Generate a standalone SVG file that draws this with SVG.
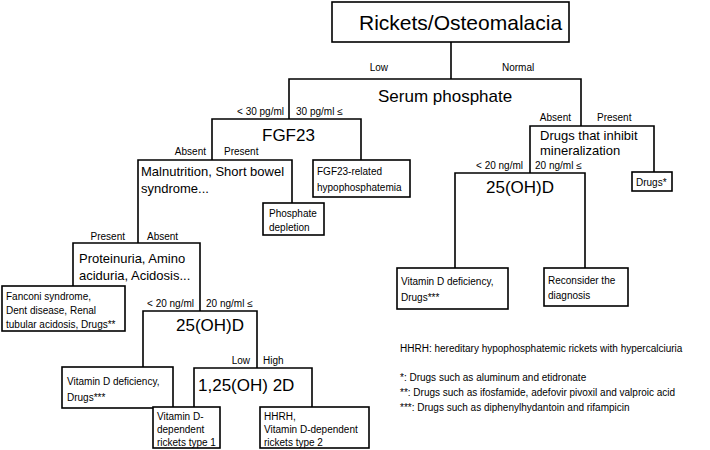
<svg xmlns="http://www.w3.org/2000/svg" width="710" height="450" viewBox="0 0 710 450">
<style>
text{font-family:"Liberation Sans",Arial,sans-serif;fill:#000}
.s{font-size:10px}.m{font-size:13px}.l{font-size:17px}.xl{font-size:21px}
.b{fill:#fff;stroke:#000;stroke-width:1.6}
.c{fill:none;stroke:#000;stroke-width:1.6}
</style>
<rect width="710" height="450" fill="#fff"/>
<g id="connectors">
<path class="c" d="M451 42V79M289 119V79H581V126"/>
<path class="c" d="M212 160V119H361V160"/>
<path class="c" d="M138 243V160H292V203"/>
<path class="c" d="M73 286V243H200V311"/>
<path class="c" d="M143 367V311H257V368"/>
<path class="c" d="M194 407V368H312V407"/>
<path class="c" d="M455 268V173H585V268"/>
<path class="c" d="M530 173V126H654V172"/>
<text class="s" x="388" y="71" text-anchor="end">Low</text><text class="s" x="502" y="71">Normal</text>
<text class="s" x="284" y="115" text-anchor="end">&lt; 30 pg/ml</text><text class="s" x="296" y="115">30 pg/ml ≤</text>
<text class="s" x="206" y="155" text-anchor="end">Absent</text><text class="s" x="224" y="155">Present</text>
<text class="s" x="571" y="121" text-anchor="end">Absent</text><text class="s" x="597" y="121">Present</text>
<text class="s" x="523" y="169" text-anchor="end">&lt; 20 ng/ml</text><text class="s" x="535" y="169">20 ng/ml ≤</text>
<text class="s" x="125" y="240" text-anchor="end">Present</text><text class="s" x="147" y="240">Absent</text>
<text class="s" x="194" y="307" text-anchor="end">&lt; 20 ng/ml</text><text class="s" x="206" y="307">20 ng/ml ≤</text>
<text class="s" x="250" y="364" text-anchor="end">Low</text><text class="s" x="263" y="364">High</text>
</g>
<g id="rickets"><rect class="b" x="332" y="2" width="237" height="40"/><text class="xl" x="359" y="30">Rickets/Osteomalacia</text></g>
<g id="serum"><text class="l" x="378" y="102">Serum phosphate</text></g>
<g id="fgf23"><text class="l" x="262" y="141">FGF23</text></g>
<g id="fgf23rel"><rect class="b" x="313" y="160" width="97" height="37"/><text class="s" x="317" y="175">FGF23-related</text><text class="s" x="317" y="191">hypophosphatemia</text></g>
<g id="malnutrition"><text class="m" x="141" y="176">Malnutrition, Short bowel</text><text class="m" x="141" y="193">syndrome...</text></g>
<g id="phosdep"><rect class="b" x="263" y="203" width="61" height="32"/><text class="s" x="269" y="217">Phosphate</text><text class="s" x="269" y="231">depletion</text></g>
<g id="proteinuria"><text class="m" x="79" y="263">Proteinuria, Amino</text><text class="m" x="79" y="280">aciduria, Acidosis...</text></g>
<g id="fanconi"><rect class="b" x="2" y="286" width="123" height="45"/><text class="s" x="6" y="300">Fanconi syndrome,</text><text class="s" x="6" y="314">Dent disease, Renal</text><text class="s" x="6" y="328">tubular acidosis, Drugs**</text></g>
<g id="ohd-low"><text class="l" x="176" y="331">25(OH)D</text></g>
<g id="vitd-left"><rect class="b" x="62" y="367" width="111" height="41"/><text class="s" x="67" y="385">Vitamin D deficiency,</text><text class="s" x="67" y="401">Drugs***</text></g>
<g id="dihydroxy"><text class="l" x="198" y="391">1,25(OH) 2D</text></g>
<g id="vddr1"><rect class="b" x="153" y="407" width="67" height="41"/><text class="s" x="157" y="420">Vitamin D-</text><text class="s" x="157" y="433">dependent</text><text class="s" x="157" y="446">rickets type 1</text></g>
<g id="hhrh"><rect class="b" x="260" y="407" width="109" height="41"/><text class="s" x="264" y="420">HHRH,</text><text class="s" x="264" y="433">Vitamin D-dependent</text><text class="s" x="264" y="446">rickets type 2</text></g>
<g id="druginhibit"><text class="m" x="540" y="140">Drugs that inhibit</text><text class="m" x="540" y="155">mineralization</text></g>
<g id="drugs"><rect class="b" x="632" y="172" width="40" height="19"/><text class="s" x="636" y="186">Drugs*</text></g>
<g id="ohd-right"><text class="l" x="486" y="193">25(OH)D</text></g>
<g id="vitd-right"><rect class="b" x="397" y="268" width="111" height="41"/><text class="s" x="401" y="285">Vitamin D deficiency,</text><text class="s" x="401" y="301">Drugs***</text></g>
<g id="reconsider"><rect class="b" x="544" y="268" width="84" height="38"/><text class="s" x="548" y="284">Reconsider the</text><text class="s" x="548" y="299">diagnosis</text></g>
<g id="notes">
<text class="s" x="400" y="352">HHRH: hereditary hypophosphatemic rickets with hypercalciuria</text>
<text class="s" x="400" y="381">*: Drugs such as aluminum and etidronate</text>
<text class="s" x="400" y="396">**: Drugs such as ifosfamide, adefovir pivoxil and valproic acid</text>
<text class="s" x="400" y="411">***: Drugs such as diphenylhydantoin and rifampicin</text>
</g>
</svg>
